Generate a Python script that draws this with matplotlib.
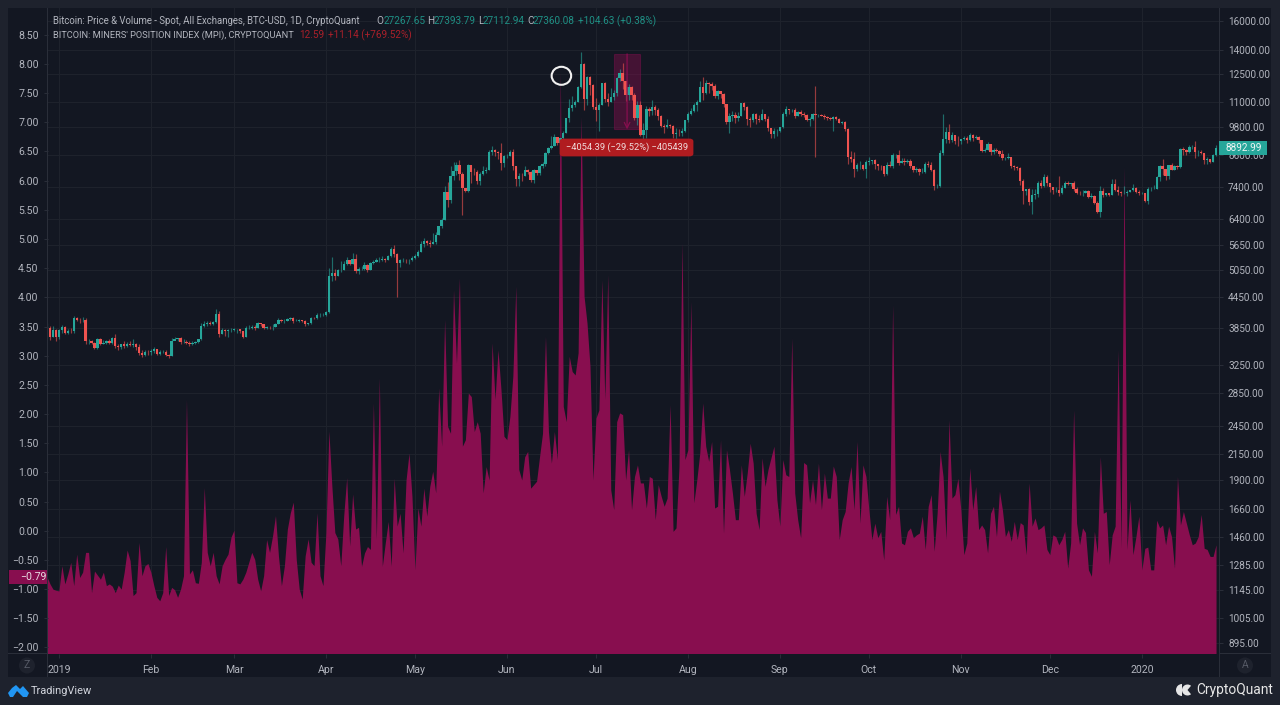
import matplotlib

matplotlib.use("Agg")
import matplotlib.pyplot as plt
import numpy as np
import pandas as pd
from matplotlib.patches import Ellipse, FancyBboxPatch, Polygon, Rectangle, Wedge

W, H = 1280, 705

OUTER_BG = "#1e222d"
PANEL_BG = "#131722"
GRID = "#1e222c"
BORDER = "#2a2e39"
LABEL = "#b2b5be"
UP = "#26a69a"
DOWN = "#ef5350"
AREA = "#880e4f"
LEGEND_UP = "#1f9085"
LEGEND_DOWN = "#a8202a"

# daily closes, highs and lows, Dec 28 2018 to Jan 26 2020
closes = [
    3857, 3700, 3820, 3690,
    3810, 3875, 3770, 3800, 3790, 4035, 3995, 3990, 4000, 3625, 3625, 3600, 3505, 3655, 3580, 3600,
    3625, 3590, 3680, 3535, 3530, 3570, 3550, 3570, 3565, 3570, 3530, 3430, 3395, 3450, 3440,
    3460, 3490, 3415, 3440, 3450, 3400, 3390, 3630, 3655, 3670, 3610, 3615, 3600, 3575, 3590, 3605,
    3655, 3880, 3915, 3950, 3930, 3960, 4110, 3740, 3820, 3800, 3810, 3810,
    3825, 3825, 3790, 3700, 3855, 3860, 3870, 3845, 3940, 3915, 3860, 3875, 3865, 3875, 3925, 4000,
    3980, 3980, 4015, 4040, 3980, 3985, 3990, 3970, 3925, 3935, 4040, 4030, 4090, 4100, 4100,
    4140, 4900, 4970, 4910, 5040, 5040, 5190, 5280, 5190, 5310, 5020, 5070, 5070, 5160, 5040, 5200,
    5230, 5280, 5280, 5310, 5290, 5390, 5550, 5440, 5200, 5270, 5290, 5270, 5280, 5330,
    5370, 5480, 5680, 5770, 5720, 5690, 5750, 5940, 6170, 6370, 7250, 6970, 7810, 7990, 8195, 7880,
    7360, 7260, 8190, 7960, 7950, 7630, 7880, 7990, 8000, 8730, 8800, 8720, 8660, 8270, 8550,
    8560, 8730, 8170, 7680, 7810, 7800, 8000, 7930, 7640, 8010, 7910, 8170, 8230, 8690, 8860, 8980,
    9330, 9080, 9280, 9535, 10180, 10700, 10860, 11000, 11800, 13100, 11130, 12350, 11880, 10760,
    10590, 10840, 11980, 11150, 10980, 11250, 11480, 12290, 12580, 12100, 11350, 11800, 11370,
    10190, 10850, 9430, 9670, 10630, 10530, 10760, 10590, 10320, 9850, 9770, 9880, 9850, 9480,
    9530, 9500, 9590, 10090,
    10400, 10520, 10820, 10980, 11800, 11480, 11980, 11970, 11860, 11290, 11550, 11400, 10870,
    10030, 10300, 10360, 10220, 10320, 10920, 10760, 10140, 10110, 10410, 10140, 10130, 10370,
    10170, 9720, 9490, 9590, 9600,
    9770, 10390, 10620, 10580, 10580, 10320, 10490, 10410, 10340, 10120, 10160, 10410, 10360,
    10360, 10310, 10260, 10180, 10160, 10270, 10170, 9985, 10030, 9690, 8530, 8430, 8065, 8190,
    8200, 8055, 8300,
    8340, 8380, 8240, 8160, 8150, 7860, 8210, 8180, 8590, 8590, 8280, 8340, 8300, 8370, 8160, 8000,
    8070, 7950, 7960, 8230, 8210, 8030, 7430, 7440, 8660, 9250, 9550, 9210, 9430, 9170, 9150,
    9240, 9310, 9200, 9410, 9320, 9340, 9200, 8770, 8810, 9040, 8720, 8810, 8760, 8630, 8460, 8490,
    8510, 8170, 8120, 8090, 7620, 7280, 7330, 6900, 7130, 7160, 7530, 7430, 7750, 7550,
    7400, 7300, 7300, 7200, 7390, 7530, 7510, 7530, 7340, 7220, 7200, 7200, 7260, 7060, 7120, 6880,
    6610, 7280, 7150, 7190, 7140, 7520, 7320, 7250, 7200, 7200, 7250, 7300, 7390, 7250, 7190,
    7200, 6950, 7340, 7350, 7350, 7760, 8150, 8040, 7810, 8190, 8020, 8180, 8110, 8820, 8810, 8720,
    8900, 8910, 8700, 8720, 8660, 8380, 8430, 8330, 8600, 8892.99,
]
highs = [
    3950, 3890, 3880, 3840,
    3830, 3900, 3880, 3840, 3850, 4080, 4050, 4040, 4060, 4040, 3660, 3640, 3610, 3680, 3680, 3640,
    3640, 3660, 3700, 3740, 3570, 3570, 3620, 3610, 3620, 3660, 3600, 3580, 3480, 3470, 3480,
    3490, 3520, 3500, 3470, 3480, 3480, 3420, 3680, 3690, 3680, 3690, 3660, 3640, 3620, 3620, 3620,
    3660, 3950, 3980, 3980, 3970, 3980, 4210, 4160, 3860, 3840, 3830, 3860,
    3860, 3840, 3830, 3800, 3880, 3900, 3900, 3900, 3960, 3950, 3920, 3890, 3890, 3930, 3940, 4040,
    4010, 4020, 4030, 4060, 4060, 4010, 4020, 4000, 3990, 3950, 4050, 4060, 4120, 4130, 4120,
    4170, 5080, 5350, 5060, 5060, 5250, 5260, 5350, 5290, 5460, 5420, 5110, 5140, 5220, 5190, 5240,
    5270, 5320, 5350, 5370, 5330, 5400, 5620, 5650, 5460, 5310, 5320, 5310, 5310, 5390,
    5430, 5520, 5770, 5840, 5780, 5790, 5980, 6010, 6180, 6430, 7450, 7580, 8160, 8330, 8300, 8380,
    7950, 7370, 8260, 8190, 8100, 8000, 7950, 8170, 8140, 8800, 8950, 8820, 8770, 9100, 8600,
    8630, 8800, 8820, 8180, 7920, 7910, 8150, 8050, 7990, 8050, 8030, 8200, 8310, 8710, 8920, 9380,
    9470, 9350, 9310, 9590, 10190, 11160, 11300, 11080, 11820, 13880, 13180, 12420, 12390, 11940,
    11170, 10950, 12000, 12080, 11440, 11700, 11600, 12340, 12800, 13180, 12100, 11930, 11830,
    11450, 11050, 11030, 9990, 10770, 10760, 11080, 10820, 10670, 10350, 9920, 10170, 9900, 9870,
    9730, 9690, 9760, 10130,
    10480, 10680, 10920, 11080, 12100, 12350, 12150, 12040, 12050, 11950, 11600, 11580, 11440,
    10900, 10460, 10530, 10500, 10480, 10940, 10970, 10780, 10240, 10450, 10420, 10330, 10650,
    10380, 10300, 9720, 9720, 9700,
    9800, 10470, 10790, 10630, 10630, 10680, 10550, 10590, 10480, 10370, 10240, 10450, 11850,
    10390, 10390, 10370, 10300, 10250, 10320, 10280, 10180, 10060, 10050, 9760, 8740, 8700, 8280,
    8340, 8230, 8380,
    8520, 8400, 8420, 8240, 8210, 8180, 8320, 8350, 8660, 8640, 8800, 8470, 8460, 8420, 8420, 8180,
    8120, 8100, 8080, 8310, 8340, 8300, 8050, 7500, 8800, 10400, 9800, 9900, 9580, 9450, 9400,
    9270, 9380, 9380, 9510, 9470, 9450, 9380, 9230, 8860, 9140, 9060, 8870, 8870, 8790, 8780, 8530,
    8670, 8520, 8220, 8170, 8110, 7700, 7340, 7370, 7350, 7330, 7630, 7640, 7860, 7820,
    7560, 7400, 7410, 7800, 7490, 7610, 7630, 7560, 7630, 7400, 7270, 7290, 7320, 7300, 7200, 7150,
    6950, 7450, 7370, 7210, 7190, 7680, 7690, 7430, 7280, 7430, 7290, 7320, 7520, 7400, 7320,
    7250, 7220, 7400, 7400, 7490, 7800, 8210, 8450, 8050, 8200, 8290, 8200, 8200, 8880, 8900, 8830,
    9000, 9020, 9180, 8780, 8800, 8660, 8500, 8450, 8620, 8990,
]
lows = [
    3680, 3650, 3690, 3630,
    3660, 3770, 3740, 3740, 3760, 3770, 3970, 3950, 3960, 3570, 3570, 3570, 3490, 3500, 3560, 3570,
    3570, 3570, 3570, 3510, 3470, 3490, 3510, 3530, 3540, 3530, 3480, 3400, 3370, 3380, 3400,
    3400, 3430, 3400, 3400, 3430, 3390, 3350, 3380, 3640, 3620, 3580, 3590, 3580, 3550, 3560, 3580,
    3590, 3640, 3870, 3890, 3900, 3910, 3950, 3700, 3740, 3720, 3700, 3780,
    3800, 3760, 3770, 3680, 3690, 3830, 3840, 3810, 3850, 3890, 3840, 3830, 3840, 3820, 3870, 3920,
    3960, 3950, 3970, 4000, 3950, 3970, 3960, 3960, 3880, 3900, 3930, 4010, 4020, 4060, 4080,
    4080, 4130, 4800, 4820, 4900, 4990, 5030, 5170, 5150, 5180, 4970, 4950, 5030, 5040, 5000, 5030,
    5180, 5220, 5240, 5260, 5230, 5270, 5360, 5350, 4450, 5120, 5230, 5210, 5190, 5260,
    5310, 5350, 5470, 5600, 5650, 5600, 5690, 5690, 5920, 6130, 6350, 6750, 6880, 7650, 7850, 7670,
    6500, 7230, 7240, 7560, 7820, 7500, 7480, 7820, 7900, 8000, 8600, 8550, 8450, 8000, 8120,
    8470, 8540, 8020, 7450, 7450, 7600, 7790, 7860, 7570, 7550, 7840, 7840, 8100, 8170, 8640, 8840,
    8970, 9000, 9050, 9270, 9530, 10000, 10530, 10730, 11000, 11700, 10600, 10850, 11340, 10650,
    10050, 9620, 10830, 11000, 10800, 10980, 11100, 11290, 12100, 11650, 11060, 11080, 11100,
    10120, 9870, 9380, 9070, 9300, 10300, 10350, 10350, 10100, 9770, 9520, 9730, 9730, 9300,
    9130, 9400, 9380, 9570,
    10000, 10330, 10510, 10560, 10980, 11100, 11400, 11480, 11600, 11200, 11150, 11220, 10760,
    9900, 9510, 10080, 9950, 10040, 10280, 10600, 9880, 9800, 10030, 9920, 10030, 10100, 10060,
    9620, 9310, 9300, 9390,
    9560, 9750, 10310, 10400, 10470, 10200, 10300, 10310, 10260, 10050, 9850, 10130, 8500,
    10240, 10280, 10150, 10130, 10100, 9620, 10110, 9950, 9920, 9610, 8230, 8300, 7750, 7990,
    8060, 8000, 7730,
    8220, 8230, 8050, 8020, 8030, 7780, 7840, 8120, 8100, 8480, 8220, 8270, 8200, 8270, 8090, 7930,
    7940, 7830, 7890, 7890, 8140, 7990, 7290, 7360, 7410, 8600, 9090, 9100, 9120, 9030, 8980,
    9040, 9200, 9070, 9180, 9170, 9250, 9090, 8710, 8730, 8780, 8610, 8620, 8700, 8570, 8390, 8410,
    8420, 8100, 8000, 8020, 7460, 6850, 7150, 6810, 6540, 7020, 7080, 7360, 7410, 7450,
    7250, 7160, 7250, 7110, 7170, 7380, 7480, 7440, 7270, 7170, 7130, 7100, 7210, 7030, 7030, 6850,
    6560, 6440, 7060, 7110, 7100, 7130, 7270, 7140, 7120, 7170, 7090, 7240, 7270, 7220, 7150,
    7170, 6920, 6860, 7260, 7330, 7350, 7620, 7820, 7670, 7680, 8000, 8000, 8070, 8090, 8600, 8600,
    8670, 8820, 8480, 8570, 8620, 8240, 8230, 8280, 8300, 8560,
]
first_open = 3840

# miners' position index, same days
mpi = [
    -0.79, -0.91, -1.00, -1.02, -1.03, -0.60, -0.91, -0.74, -0.54, -0.94, -0.40, -0.80, -0.71, -0.37, -0.37,
    -1.06, -0.69, -0.76, -0.83, -0.71, -0.94, -0.91, -0.95, -1.06, -0.93, -1.00, -0.71, -0.33,
    -0.51, -1.11, -1.06, -0.20, -0.77, -0.60, -0.56, -0.71, -0.94, -1.14, -1.20, -1.06, -0.27,
    -1.11, -0.97, -1.01, -1.14, -1.00, -0.77, 2.25, -0.74, -0.67, -0.89, -0.90, -0.54, 0.74, -0.37,
    -0.60, -0.37, -0.77, -0.91, -0.60, -0.49, -0.40, -0.11, 0.01, -0.89, -0.91, -0.83, -0.71,
    -0.54, -0.37, -0.49, -0.83, -1.03, -0.77, -0.15, -0.37, -0.09, 0.26, -0.43, -0.94, -0.60, 0.03,
    0.31, 0.49, -0.49, -1.00, -1.17, -0.43, -0.14, -0.54, -0.60, 0.31, -0.77, -0.94, -0.03, 1.71,
    0.77, -0.03, -0.14, -0.60, 0.26, 0.91, -0.26, 0.63, 0.03, 0.06,
    -0.61, -0.38, -0.27, -0.32, 2.19, -0.15, 2.62, -0.61, -0.21, 0.16, -0.61, 0.90, 0.08, 0.30,
    -0.38, 0.87, 1.33, 0.59, -0.67, 0.39, 0.08, 0.73, 0.25, 0.76, 1.02, 0.65, 2.45, 1.45, 3.62,
    1.79, 1.67, 4.13, 2.87, 4.33, 1.45, 1.56, 2.36, 2.30, 1.70, 1.87, 1.67, 0.65, 1.10, 0.87, 3.22,
    2.25, 3.10, 2.42, 1.62, 1.56, 1.96, 2.65, 4.19, 1.05, 0.87, 1.27, 1.36, 0.73, 0.79, 0.85, 1.27,
    1.67, 3.33, 1.70, 1.16, 1.70, 1.22, 7.85, 2.13, 1.87, 2.99, 2.73, 2.67, 3.05, 7.10, 4.02, 3.56,
    2.82, 0.87, 1.93, 2.07, 4.30, 2.25, 4.39, 0.70, 0.36, 1.87, 2.02, 1.99, 0.87, 1.39, 0.36, 0.93,
    1.13, 0.82, 0.82, 0.39, 0.93, 0.90, 0.19, 0.79, 0.59, 0.42, 0.56, 2.16, -0.01, 0.05, 1.10, 4.93,
    1.22, 1.39, 3.93, 0.48, 0.87, 1.33, 2.19, 1.45, 1.19, 1.53, 0.39, 0.42, 1.56, -0.04, 1.39, 1.05,
    0.65, 0.19, 0.19, 1.13, 0.59, 0.99, 1.50, 1.16, 0.30, 0.02, 1.25, 0.76, 1.05, 1.25, 1.45, 0.53,
    0.08, 1.22, 0.96, 0.93, 3.30, 0.65, 0.19, -0.12, 1.17, 1.13, 0.48, 0.87, 0.45, 1.16, 0.36, 0.99,
    0.56, 0.56, 1.11, 0.93, -0.15, 0.19, 0.33, 0.82, 1.10, 0.36, 1.53, 0.13, 1.13, 0.93, 0.36,
    -0.15, 0.13, -0.12, -0.01, -0.50, 0.59, 0.19, 3.87, 0.28, 0.42, -0.21, -0.24, -0.01, 0.05,
    -0.12, -0.07, -0.04, 0.25, -0.32, 0.42, 0.62, -0.35, 0.30, 1.36, 0.93, -0.15, 1.90,
    0.56, 0.62, 0.90, 0.36, -0.41, -0.21, 1.08, 0.36, 0.76, 0.02, 0.10, 0.02, -0.38, 0.30, 0.42,
    -0.10, 0.68, 0.36, -0.10, 0.02, -0.18, 0.16, -0.15, 0.14, 0.10, -0.41, 0.82, 0.08, 0.22, 0.02,
    0.05, 0.10, -0.32, -0.41, -0.07, -0.10, -0.24, -0.15, -0.01, -0.64, -0.21, 2.07, 0.13, -0.24,
    0.05, -0.03, -0.67, -0.78, -0.01, -0.38, 1.27, 0.30, 0.33, -0.58, -0.07, 0.08, 3.10, -0.30,
    6.24, -0.32, 0.53, -0.41, -0.10, 0.25, -0.67, -0.30, -0.28, -0.67, -0.67, 0.18, 0.05, 0.10,
    -0.24, 0.08, -0.10, -0.64, 0.93, 0.10, 0.33, 0.13, -0.07, -0.24, -0.21, -0.10, 0.28, -0.30,
    -0.32, -0.44, -0.44, -0.24,
]

dates = pd.date_range("2018-12-28", periods=len(closes), freq="D")
assert len(highs) == len(closes) and len(lows) == len(closes), (len(closes), len(highs), len(lows))
assert len(mpi) == len(closes), (len(mpi), len(closes))

month_ticks = pd.date_range("2019-01-01", "2020-01-01", freq="MS")
month_labels = ["2019", "Feb", "Mar", "Apr", "May", "Jun", "Jul", "Aug", "Sep", "Oct", "Nov", "Dec", "2020"]
mpi_ticks = [-2.0, -1.5, -1.0, -0.5, 0.0, 0.5, 1.0, 1.5, 2.0, 2.5, 3.0, 3.5, 4.0, 4.5, 5.0, 5.5, 6.0,
             6.5, 7.0, 7.5, 8.0, 8.5]
price_ticks = [895, 1005, 1145, 1285, 1460, 1660, 1900, 2150, 2450, 2850, 3250, 3850, 4450, 5050, 5650,
               6400, 7400, 8600, 9800, 11000, 12500, 14000, 16000]

# measure tool readings
measure_start, measure_end = pd.Timestamp("2019-07-07"), pd.Timestamp("2019-07-16")
measure_top, measure_bottom = 13733.0, 9678.61

plt.rcParams["font.family"] = ["Roboto", "DejaVu Sans"]


def fx(x):
    return x / W


def fy(y):
    return 1 - y / H


def fig_rect(fig, x0, y0, x1, y1, color, zorder=-1):
    fig.add_artist(
        Rectangle((fx(x0), fy(y1)), (x1 - x0) / W, (y1 - y0) / H, transform=fig.transFigure,
                  facecolor=color, edgecolor="none", zorder=zorder)
    )


def fig_text(fig, x, y, s, color=LABEL, size=7.2, ha="left", **kw):
    fig.text(fx(x), fy(y), s, color=color, fontsize=size, ha=ha, va="center", zorder=12, **kw)


fig = plt.figure(figsize=(W / 100, H / 100), dpi=100, facecolor=OUTER_BG)

# chart frame
fig_rect(fig, 8, 8, 1271, 677, PANEL_BG)
fig_rect(fig, 47, 654, 48, 677, BORDER, zorder=-0.5)
fig_rect(fig, 47, 8, 48, 654, BORDER, zorder=-0.5)
fig_rect(fig, 1219, 8, 1220, 677, BORDER, zorder=-0.5)
fig_rect(fig, 8, 653, 1271, 654, BORDER, zorder=-0.5)

pos = [fx(47.5), fy(653.5), (1219 - 47.5) / W, (653.5 - 8) / H]
day0 = pd.Timestamp("2019-01-01")
xlim = (day0 - pd.Timedelta(days=3.84), day0 + pd.Timedelta(days=391.0))
price_lim = (851, 16994)
mpi_lim = (-2.103, 8.959)

# grid sits under the area, candles over it
ax_grid = fig.add_axes(pos, zorder=1, facecolor=PANEL_BG)
ax_mpi = fig.add_axes(pos, zorder=2, facecolor="none")
ax_price = fig.add_axes(pos, zorder=3, facecolor="none")

ax_grid.set_yscale("log")
ax_grid.set_xlim(xlim)
ax_grid.set_ylim(price_lim)
ax_grid.set_yticks(price_ticks)
ax_grid.set_yticks([], minor=True)
ax_grid.set_xticks(month_ticks)
ax_grid.grid(True, color=GRID, lw=0.8)
ax_grid.set_axisbelow(True)
ax_grid.tick_params(left=False, bottom=False, labelleft=False, labelbottom=False)
for s in ax_grid.spines.values():
    s.set_visible(False)

ax_mpi.fill_between(dates, mpi, mpi_lim[0], color=AREA, lw=0)
ax_mpi.set_xlim(xlim)
ax_mpi.set_ylim(mpi_lim)
ax_mpi.set_yticks(mpi_ticks)
ax_mpi.set_yticklabels([f"{t:.2f}".replace("-", "\u2212") for t in mpi_ticks])
ax_mpi.set_xticks(month_ticks)
ax_mpi.set_xticklabels(month_labels)
ax_mpi.tick_params(axis="y", colors=LABEL, labelsize=7.6, length=3, width=0.7, color=BORDER, pad=3.5)
ax_mpi.tick_params(axis="x", colors=LABEL, labelsize=7.6, length=3, width=0.7, color=BORDER, pad=5)
for s in ax_mpi.spines.values():
    s.set_visible(False)

# candles
closes_a = np.array(closes)
opens_a = np.r_[first_open, closes_a[:-1]]
colors = np.where(closes_a >= opens_a, UP, DOWN)
ax_price.set_yscale("log")
ax_price.vlines(dates, lows, highs, colors=list(colors), lw=0.85, alpha=0.6, zorder=3)
ax_price.bar(dates, np.abs(closes_a - opens_a), bottom=np.minimum(opens_a, closes_a), width=0.8,
             color=list(colors), lw=0, zorder=4)

# measure tool
ax_price.add_patch(
    Rectangle((measure_start, measure_bottom), measure_end - measure_start, measure_top - measure_bottom,
              facecolor="#880e4f", edgecolor="#880e4f", lw=0.8, alpha=0.42, zorder=2)
)
mid = measure_start + (measure_end - measure_start) / 2
ax_price.annotate("", xy=(mid, measure_bottom), xytext=(mid, measure_top),
                  arrowprops=dict(arrowstyle="->", color="#880e4f", lw=0.9, shrinkA=0, shrinkB=0), zorder=5)

ax_price.set_xlim(xlim)
ax_price.set_ylim(price_lim)
ax_price.yaxis.tick_right()
ax_price.set_yticks(price_ticks)
ax_price.set_yticklabels([f"{t:.2f}" for t in price_ticks])
ax_price.set_yticks([], minor=True)
ax_price.set_xticks([])
ax_price.tick_params(axis="y", colors=LABEL, labelsize=7.2, length=3, width=0.7, color=BORDER, pad=3.5)
for s in ax_price.spines.values():
    s.set_visible(False)

# last value tags
fig_rect(fig, 9, 570, 47, 584, AREA, zorder=10)
fig_text(fig, 20, 577, "\u22120.79", color="#e8dde3", size=7.6)
fig_rect(fig, 1219, 141, 1267, 155, UP, zorder=10)
fig_text(fig, 1226, 148, f"{closes[-1]:.2f}", color="#eef6f5")

# legend lines
fig_text(fig, 53, 21, "Bitcoin: Price & Volume - Spot, All Exchanges, BTC-USD, 1D, CryptoQuant", size=6.95)
for x, s, c in [
    (376, "O", LABEL), (384, "27267.65", LEGEND_UP), (427, "H", LABEL), (434, "27393.79", LEGEND_UP),
    (478, "L", LABEL), (483, "27112.94", LEGEND_UP), (527, "C", LABEL), (533, "27360.08", LEGEND_UP),
    (578, "+104.63 (+0.38%)", LEGEND_UP),
]:
    fig_text(fig, x, 21, s, color=c)
fig_text(fig, 53, 35, "BITCOIN: MINERS' POSITION INDEX (MPI), CRYPTOQUANT", size=6.7)
fig_text(fig, 299, 35, "12.59", color=LEGEND_DOWN)
fig_text(fig, 328, 35, "+11.14 (+769.52%)", color=LEGEND_DOWN)

# white ring
fig.add_artist(
    Ellipse((fx(561.4), fy(75.8)), 19.5 / W, 18 / H, transform=fig.transFigure, facecolor="none",
            edgecolor="#f0f0f0", lw=1.5, zorder=11)
)

# measure readout
fig.add_artist(
    FancyBboxPatch((fx(561), fy(155)), 131 / W, 15 / H, boxstyle="round,pad=0,rounding_size=0.002",
                   transform=fig.transFigure, facecolor="#b01c20", edgecolor="#b01c20", lw=2, zorder=11,
                   mutation_aspect=1)
)
fig_text(fig, 566, 147.5, "\u22124054.39 (\u221229.52%) \u2212405439", color="#f0dcdc", size=6.7)

# scale mode buttons
for cx, s in [(27, "Z"), (1245, "A")]:
    fig.add_artist(Ellipse((fx(cx), fy(665.5)), 16 / W, 16 / H, transform=fig.transFigure,
                           facecolor=OUTER_BG, edgecolor="none", zorder=11))
    fig_text(fig, cx, 665.5, s, color="#565a66", ha="center", size=7.5)

# footer marks
fig.add_artist(Polygon(
    [(fx(x), fy(y)) for x, y in [(8, 693), (12, 688), (16, 685), (20, 689), (23, 686), (29, 693), (27, 697),
                                 (23, 697), (20, 694), (17, 691), (13, 697), (10, 697)]],
    transform=fig.transFigure, facecolor="#2196f3", edgecolor="none", zorder=11))
fig_text(fig, 31, 691, "TradingView", color="#d1d4dc", size=7.9)
# left half disc and notched disc of the wordmark icon
ax_icon = fig.add_axes([fx(1175), fy(697), 18 / W, 14 / H], zorder=11, facecolor="none")
ax_icon.set_xlim(0, 18)
ax_icon.set_ylim(0, 14)
ax_icon.axis("off")
ax_icon.add_patch(Wedge((7, 7), 6, 90, 270, facecolor="#e6e6e6", edgecolor="none"))
ax_icon.add_patch(Wedge((12.5, 7), 5.5, 50, 310, facecolor="#e6e6e6", edgecolor="none"))
fig_text(fig, 1196, 690, "CryptoQuant", color="#e6e6e6", size=9.9)

fig.savefig("out.png", dpi=100, facecolor=OUTER_BG)
